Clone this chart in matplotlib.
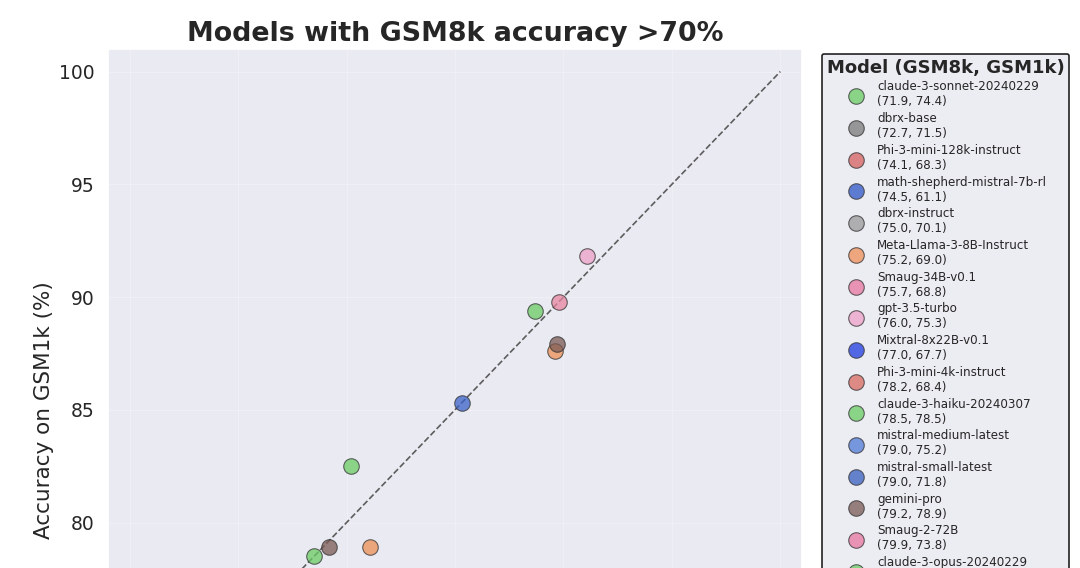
import matplotlib
matplotlib.use("Agg")
import matplotlib.pyplot as plt
import seaborn as sns

models = [
    "claude-3-sonnet-20240229", "dbrx-base", "Phi-3-mini-128k-instruct",
    "math-shepherd-mistral-7b-rl", "dbrx-instruct", "Meta-Llama-3-8B-Instruct",
    "Smaug-34B-v0.1", "gpt-3.5-turbo", "Mixtral-8x22B-v0.1",
    "Phi-3-mini-4k-instruct", "claude-3-haiku-20240307", "mistral-medium-latest",
    "mistral-small-latest", "gemini-pro", "Smaug-2-72B", "claude-3-opus-20240229",
    "Meta-Llama-3-70B", "mistral-large-latest", "claude-2.1",
    "Meta-Llama-3-70B-Instruct", "gemini-1.5-pro", "gpt-4",
    "gpt-4-turbo-2024-04-09",
]
gsm8k = [71.9, 72.7, 74.1, 74.5, 75.0, 75.2, 75.7, 76.0, 77.0, 78.2, 78.5, 79.0,
         79.0, 79.2, 79.9, 80.2, 81.1, 85.3, 88.7, 89.6, 89.7, 89.8, 91.1]
gsm1k = [74.4, 71.5, 68.3, 61.1, 70.1, 69.0, 68.8, 75.3, 67.7, 68.4, 78.5, 75.2,
         71.8, 78.9, 73.8, 82.5, 78.9, 85.3, 89.4, 87.6, 87.9, 89.8, 91.8]
colors = ["#6acc64", "#7a7a7a", "#d65f5f", "#2f55c8", "#9a9a9a", "#ee8f55",
          "#e8769f", "#eea0c8", "#1f3be0", "#d86a5f", "#6acc64", "#4f7ad8",
          "#365fc0", "#7a5a55", "#e8769f", "#6acc64", "#ee8f55", "#3a62c8",
          "#6acc64", "#ee8f55", "#7a5a55", "#e8859f", "#eea0c8"]
diag = [70, 100]

sns.set_theme(style="darkgrid")
plt.rcParams["font.family"] = ["DejaVu Sans"]

fig = plt.figure(figsize=(10.8, 5.68), dpi=100)
ax = fig.add_axes([0.1, -0.3567, 0.6426, 1.2704])

ax.plot(diag, diag, linestyle="--", color="#444444", linewidth=1.2, alpha=0.85)
for name, x, y, c in zip(models, gsm8k, gsm1k, colors):
    ax.scatter(x, y, s=125, color=c, alpha=0.75, edgecolor="#333333",
               linewidth=0.8, label=f"{name}\n({x:.1f}, {y:.1f})", zorder=3)

ax.set_xlim(69, 101)
ax.set_ylim(69, 101)
ax.set_xticks([70, 75, 80, 85, 90, 95, 100])
ax.set_yticks([70, 75, 80, 85, 90, 95, 100])
ax.grid(color="#f4f4f8", linewidth=0.8, alpha=0.6)
ax.tick_params(labelsize=13.5)
ax.set_xlabel("Accuracy on GSM8k (%)", fontsize=15.5)
ax.set_ylabel("Accuracy on GSM1k (%)", fontsize=15.5, labelpad=4)
ax.set_title("Models with GSM8k accuracy >70%", fontsize=19.4, fontweight="bold")

leg = ax.legend(title="Model (GSM8k, GSM1k)", loc="upper left",
                bbox_to_anchor=(822 / 1080, 1 - 54 / 568),
                bbox_transform=fig.transFigure, borderaxespad=0,
                fontsize=8.6, labelspacing=0.31, handletextpad=0.75,
                title_fontproperties={"weight": "bold", "size": 13},
                frameon=True, facecolor="#ececf3", edgecolor="#222222",
                framealpha=1)
leg.get_frame().set_linewidth(1.2)

fig.savefig("out.png", dpi=100)
